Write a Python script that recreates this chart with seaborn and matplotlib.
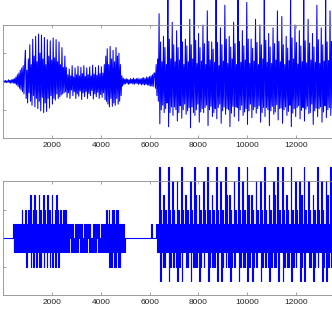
import numpy as np
import pandas as pd
import matplotlib
matplotlib.use("Agg")
import matplotlib.pyplot as plt
import seaborn as sns

# ---- data: waveform samples (step of 30 samples) ----
sample_step = 30
# top: original signal, in hundredths
wave_silence = [0, 1, -1, 2, -2, 1, -1, 3, -2, 2, -3, 3, -2, 4, -3, 5, -4]
wave_onset = [8, -6, 12, -9, 15, -12, 20, -15, 24, -18, 28, -22, 30]
wave_vowel1 = [55, -30, 20, -38, 40, -20, 65, -35, 30, -42, 75, -25, 45, -45,
               80, -30, 35, -48, 84, -35, 50, -52, 82, -28, 40, -55, 78, -38,
               30, -53, 74, -30, 45, -47, 72, -25, 38, -40, 77, -30, 42, -33,
               74, -22, 35, -30, 70, -27, 30, -24, 60, -22, 25, -20, 45, -18]
wave_mid = [25, -28, 12, -20, 22, -30, 10, -15, 28, -25,
            8, -18, 24, -30, 12, -22, 27, -26, 10, -17,
            25, -32, 14, -20, 28, -27, 9, -18, 24, -30,
            12, -21, 26, -25, 10, -16, 29, -31, 13, -22,
            25, -27, 11, -19, 28, -30, 14, -23, 26, -28,
            15, -20, 30, -32]
wave_burst = [45, -35, 58, -40, 30, -45, 62, -30, 40, -44,
              55, -38, 35, -42, 60, -30, 45, -40, 50, -35, 30, -25]
wave_pause = [10, -8, 6, -5, 4, -4, 5, -3, 4, -5, 3, -4, 5, -3, 4, -4, 6, -5,
              4, -3, 5, -4, 6, -5, 4, -4, 5, -6, 6, -5, 7, -6, 5, -5, 8, -6,
              7, -7, 9, -8, 10, -8, 12, -9, 15]
wave_noise = [15, -12, 30, -25, 40, -35, 120, -75, 70, -50, 35, -42,
              80, -55, 60, -48, 30, -38, 150, -80, 75, -55, 40, -45,
              105, -60, 65, -45, 35, -50, 90, -70, 60, -55, 38, -43,
              150, -65, 70, -50, 30, -40, 75, -58, 63, -52, 35, -46,
              110, -82, 65, -45, 40, -55, 150, -60, 73, -50, 32, -40,
              85, -72, 60, -54, 36, -48, 100, -55, 67, -46, 30, -42,
              125, -78, 71, -50, 38, -44, 70, -62, 57, -55, 34, -48,
              150, -66, 69, -46, 28, -40, 95, -74, 65, -52, 36, -45,
              135, -58, 75, -48, 32, -50, 80, -80, 61, -56, 40, -44,
              105, -62, 67, -45, 30, -46, 150, -70, 71, -50, 34, -42,
              90, -60, 63, -54, 38, -48, 140, -76, 75, -52, 32, -40,
              75, -64, 59, -50, 36, -45, 110, -56, 69, -48, 30, -43,
              100, -72, 65, -55, 40, -46, 150, -62, 73, -46, 34, -50,
              85, -78, 61, -52, 32, -44, 95, -58, 67, -54, 38, -41,
              125, -68, 71, -48, 35, -47, 115, -74, 65, -50, 30, -45,
              80, -60, 59, -53, 37, -42, 150, -80, 77, -56, 40, -48,
              100, -62, 69, -46, 31, -43, 90, -66, 63, -51, 35, -46,
              150, -70, 72, -49, 33, -44, 110, -57, 68, -55, 38, -40,
              85, -76, 61, -52, 34, -47, 135, -62, 74, -48, 32, -45,
              95, -72, 65, -54, 36, -43, 150, -64, 70, -50, 37, -46,
              125, -60, 71, -48, 30, -42, 90, -70, 63, -53, 35, -44,
              110, -60]

# bottom: quantized signal, in quarter steps
quant_silence = [0, 0, 0, 0, 0, 0, 0, 0, 0, 0, 0, 0, 0, 1, -1, 1, -1]
quant_onset = [1, -1, 1, -1, 1, -1, 1, -1, 2, -1, 1, -1, 2]
quant_vowel1 = [2, -2, 1, -1, 2, -1, 3, -2, 1, -1, 2, -2, 3, -1, 2, -2, 1, -1,
                3, -2, 2, -2, 1, -1, 3, -2, 2, -1, 1, -2, 3, -1, 2, -2, 1, -1,
                3, -2, 1, -1, 2, -2, 3, -1, 2, -2, 1, -1, 2, -1, 1, -1, 2, -1,
                2, -1]
quant_mid = [1, -1, 1, -1, 1, 0, 1, -1, 1, -1, 0, -1, 1, -1, 1, -1, 1, 0,
             1, -1, 1, -1, 0, -1, 1, -1, 1, -1, 1, 0, 1, -1, 1, -1, 0, -1,
             1, -1, 1, -1, 1, 0, 1, -1, 1, -1, 0, -1, 1, -1, 1, -1, 1, -1]
quant_burst = [2, -1, 1, -1, 2, -2, 1, -2, 2, -1, 2, -2, 1, -2, 2, -1, 2, -2,
               1, -2, 1, -1]
quant_pause = [1, -1, 1, -1, 0, 0, 0, 0, 0, 0, 0, 0, 0, 0, 0, 0, 0, 0, 0, 0,
               0, 0, 0, 0, 0, 0, 0, 0, 0, 0, 0, 0, 0, 0, 0, 0, 0, 0, 0, 0,
               1, 0, 0, 0, 0]
quant_noise = [0, 0, 1, -1, 1, -1, 5, -3, 2, -1, 1, -2,
               3, -2, 2, -1, 1, -1, 5, -3, 2, -2, 1, -1,
               4, -2, 2, -1, 1, -2, 4, -3, 2, -2, 1, -1,
               5, -3, 2, -1, 1, -1, 3, -2, 2, -2, 1, -1,
               4, -3, 2, -1, 1, -2, 5, -2, 3, -2, 1, -1,
               3, -3, 2, -2, 1, -1, 4, -2, 2, -1, 1, -1,
               5, -3, 2, -2, 1, -1, 3, -2, 2, -2, 1, -1,
               5, -3, 2, -1, 1, -1, 4, -3, 2, -2, 1, -1,
               5, -2, 3, -1, 1, -2, 3, -3, 2, -2, 1, -1,
               4, -2, 2, -1, 1, -1, 5, -3, 2, -2, 1, -1,
               4, -2, 2, -2, 1, -1, 5, -3, 3, -2, 1, -1,
               3, -3, 2, -2, 1, -1, 4, -2, 2, -1, 1, -1,
               4, -3, 2, -2, 1, -1, 5, -2, 2, -1, 1, -2,
               3, -3, 2, -2, 1, -1, 4, -2, 3, -2, 1, -1,
               5, -3, 2, -1, 1, -1, 5, -3, 2, -2, 1, -1,
               3, -2, 2, -2, 1, -1, 5, -3, 2, -2, 1, -1,
               4, -2, 2, -1, 1, -1, 4, -3, 3, -2, 1, -1,
               5, -3, 2, -1, 1, -1, 4, -2, 2, -2, 1, -1,
               3, -3, 2, -2, 1, -1, 5, -2, 2, -1, 1, -1,
               4, -3, 2, -2, 1, -1, 4, -3, 3, -2, 1, -1,
               5, -2, 2, -1, 1, -1, 4, -3, 2, -2, 1, -1,
               4, -2]

x_ticks = [2000, 4000, 6000, 8000, 10000, 12000]
y_ticks = [-0.5, 0, 0.5]

wave = np.array(wave_silence + wave_onset + wave_vowel1 + wave_mid + wave_burst
                + wave_pause + wave_noise) / 100.0
quant = np.array(quant_silence + quant_onset + quant_vowel1 + quant_mid
                 + quant_burst + quant_pause + quant_noise) / 4.0
assert len(wave) == len(quant), (len(wave), len(quant))
samples = np.arange(len(wave)) * sample_step
df = pd.DataFrame({"n": samples, "wave": wave, "quant": quant})

# ---- figure ----
sns.set_style("white")
plt.rcParams["font.family"] = ["Liberation Sans", "DejaVu Sans"]
fig = plt.figure(figsize=(3.32, 3.32), dpi=100)
W, H = 332.0, 332.0
x0 = 3.5
ax_w = 14000 * 0.02435
ax_top = fig.add_axes([x0 / W, (H - 138) / H, ax_w / W, 113 / H])
ax_bot = fig.add_axes([x0 / W, (H - 295) / H, ax_w / W, 114 / H])

sns.lineplot(data=df, x="n", y="wave", ax=ax_top, color="#0000ff",
             linewidth=0.75, estimator=None, sort=False)
sns.lineplot(data=df, x="n", y="quant", ax=ax_bot, color="#0000ff",
             linewidth=0.8, estimator=None, sort=False, drawstyle="steps-post")

for ax in (ax_top, ax_bot):
    for ln in ax.lines:
        ln.set_clip_on(False)
    ax.set_xlim(0, 14000)
    ax.set_ylim(-1, 1)
    ax.set_xticks(x_ticks)
    ax.set_xticklabels([str(t) for t in x_ticks])
    ax.set_yticks(y_ticks)
    ax.set_yticklabels([])
    ax.set_xlabel("")
    ax.set_ylabel("")
    ax.tick_params(axis="both", direction="in", length=2.5, width=0.5,
                   color="#808080", labelsize=6, labelcolor="#222222",
                   top=True, bottom=True, left=True, right=False, pad=3)
    for s in ax.spines.values():
        s.set_color("#8c8c8c")
        s.set_linewidth(0.6)
    ax.set_facecolor("white")

fig.savefig("out.png", dpi=100, facecolor="white")
